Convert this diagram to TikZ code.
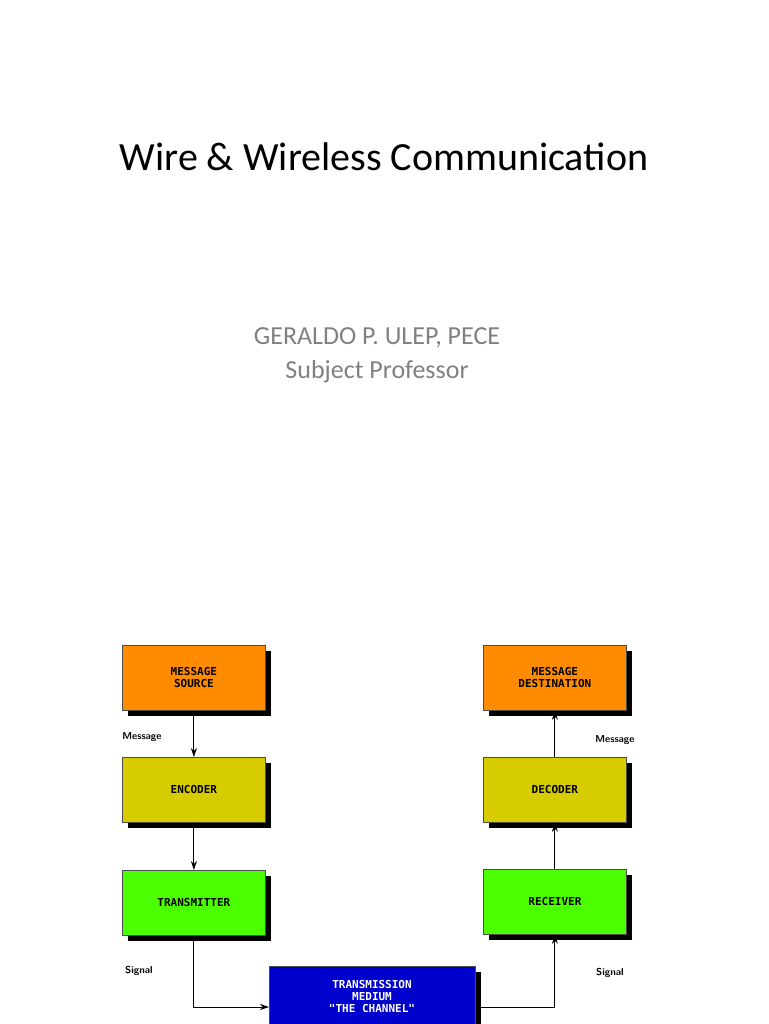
\documentclass[tikz,border=0pt]{standalone}
\usepackage{fontspec}
\setmainfont{Carlito}
\newfontfamily\boxfont{DejaVu Sans Mono}
\usetikzlibrary{arrows.meta}
\begin{document}
\begin{tikzpicture}[x=1pt,y=-1pt,
 blk/.style={draw=black!70,line width=0.8pt,minimum width=143pt,minimum height=65pt,anchor=north west,align=center,font=\boxfont\bfseries\fontsize{11}{12}\selectfont},
 shadowbox/.style={fill=black},
 lbl/.style={font=\sffamily\bfseries\fontsize{10}{11}\selectfont},
 arr/.style={-{Stealth[length=9pt,width=6pt]},line width=0.9pt}]
\useasboundingbox (0,0) rectangle (768,1024);
\node[font=\fontsize{40}{46}\selectfont] (title) at (384,157) {Wire \& Wireless Communication};
\node[font=\fontsize{26}{34}\selectfont,text=black!50,align=center] (sub) at (377,355) {GERALDO P. ULEP, PECE\\Subject Professor};
% shadows
\foreach \x/\y in {122/645,122/757,122/870,483/645,483/757,483/869}
  \fill (\x+6,\y+6) rectangle (\x+149,\y+71);
\fill (275,972) rectangle (481,1024);
\node[blk,fill=orange!90!yellow] (src) at (122,645) {MESSAGE\\SOURCE};
\node[blk,fill=yellow!65!olive] (enc) at (122,757) {ENCODER};
\node[blk,fill=green!60!lime] (tx) at (122,870) {TRANSMITTER};
\node[blk,fill=orange!90!yellow] (dst) at (483,645) {MESSAGE\\DESTINATION};
\node[blk,fill=yellow!65!olive] (dec) at (483,757) {DECODER};
\node[blk,fill=green!60!lime] (rx) at (483,869) {RECEIVER};
\node[blk,fill=blue!80!black,text=white,minimum width=206pt,minimum height=80pt,anchor=north west] (med) at (269,966) {};
\node[font=\boxfont\bfseries\fontsize{11}{12}\selectfont,text=white,align=center,anchor=north] (medt) at (372,977) {TRANSMISSION\\MEDIUM\\"THE CHANNEL"};
\draw[arr] (src) -- (enc);
\draw[arr] (enc) -- (tx);
\draw[arr] (tx.south) |- (med.west |- 0,1007);
\coordinate (mr) at (med.east |- 0,1007);
\draw[arr] (mr) -| (rx.south);
\draw[arr] (rx) -- (dec);
\draw[arr] (dec) -- (dst);
\node[lbl] (m1) at (142,737) {Message};
\node[lbl] (m2) at (615,740) {Message};
\node[lbl] (s1) at (139,971) {Signal};
\node[lbl] (s2) at (610,973) {Signal};
\end{tikzpicture}
\end{document}
